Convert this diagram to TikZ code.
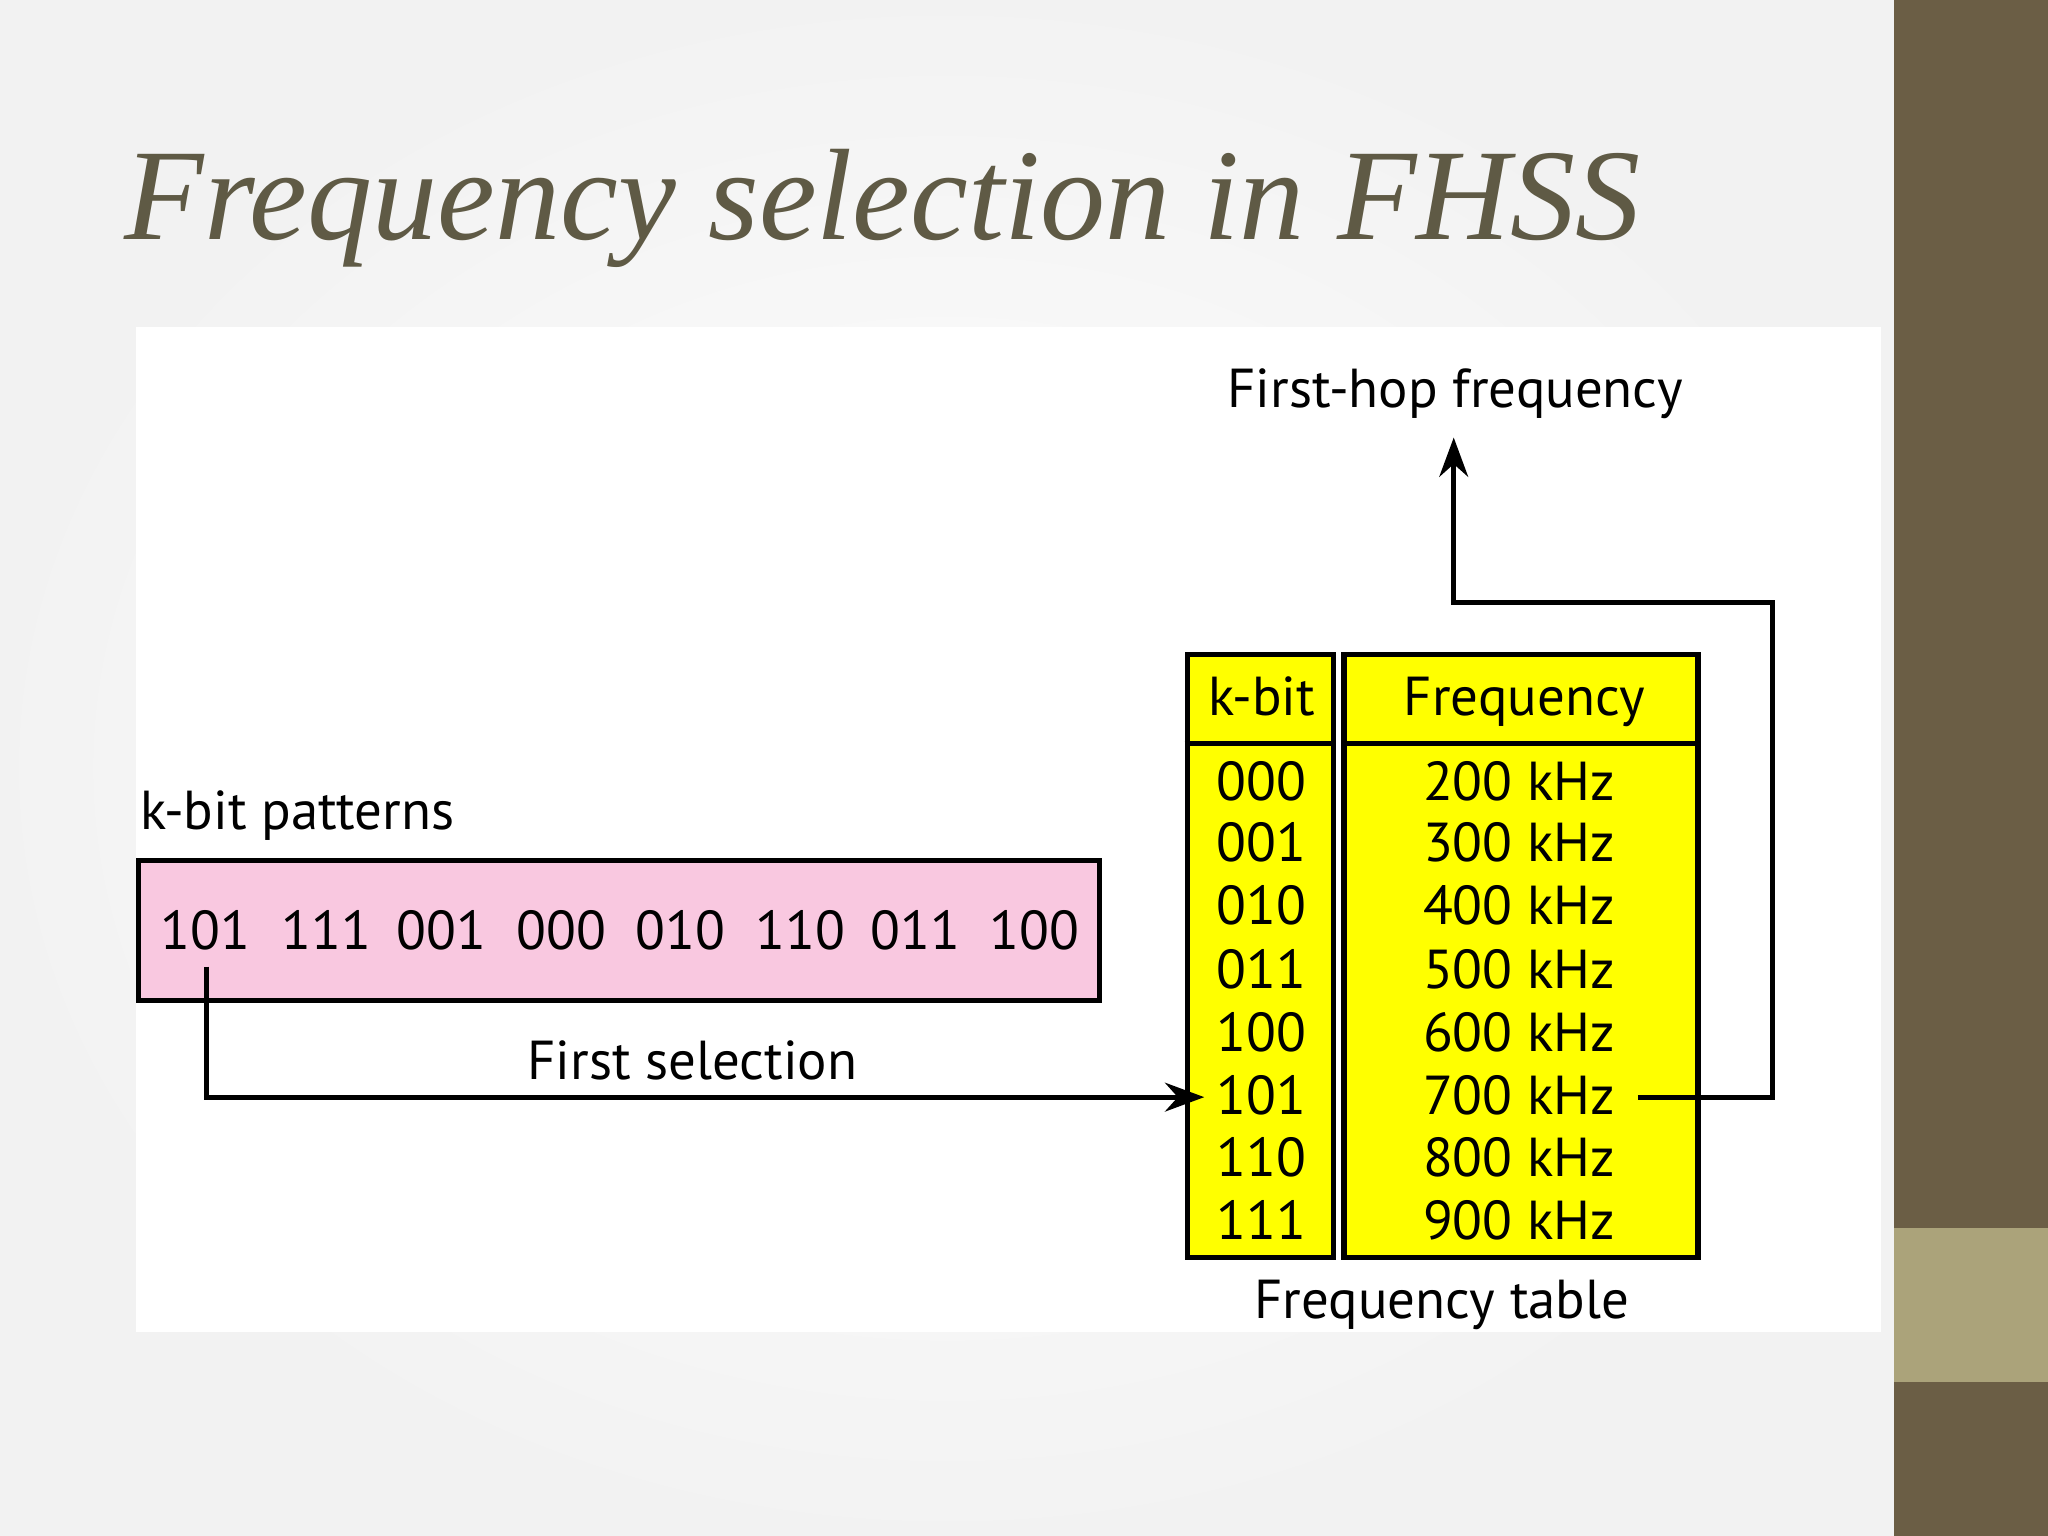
\documentclass[tikz,border=0pt]{standalone}
\usepackage{fontspec}
\setmainfont{Liberation Serif}
\newfontfamily\dfont{PT Sans}
\usetikzlibrary{arrows.meta}
\definecolor{olive}{HTML}{6B5E45}
\definecolor{olivel}{HTML}{ABA37A}
\definecolor{titlec}{HTML}{5F5A45}
\definecolor{pinkc}{HTML}{F9C8E0}
\definecolor{yel}{HTML}{FFFF00}
\begin{document}
\begin{tikzpicture}[x=0.5pt,y=-0.5pt,
  txt/.style={font=\dfont\fontsize{21}{24}\selectfont,inner sep=0pt,text depth=0pt},
  ln/.style={line width=2pt},
  arr/.style={ln,-{Stealth[length=15pt,width=11pt]}}]
\useasboundingbox (0,0) rectangle (1568,1176);
\shade[inner color=white,outer color=gray!10] (0,0) rectangle (1450,1176);
\fill[white] (104,250) rectangle (1440,1020);
\fill[olive] (1450,0) rectangle (1568,1176);
\fill[olivel] (1450,940) rectangle (1568,1058);
\node[anchor=base west,inner sep=0pt,text=titlec,font=\itshape\fontsize{49.8}{58}\selectfont] (title) at (95,183) {Frequency selection in FHSS};
\node[txt,anchor=west] (kbp) at (107,620) {k-bit patterns};
\node[ln,draw,fill=pinkc,minimum width=368pt,minimum height=53.5pt,inner sep=0pt] (pbox) at (474,712.5) {};
\foreach \t/\x [count=\i] in {101/157,111/250,001/338,000/430,010/521,110/613,011/701,100/792}
  \node[txt] (p\i) at (\x,712) {\t};
\node[ln,draw,fill=yel,minimum width=56pt,minimum height=231pt,inner sep=0pt] (lcol) at (965,732) {};
\node[ln,draw,fill=yel,minimum width=135.5pt,minimum height=231pt,inner sep=0pt] (rcol) at (1164.5,732) {};
\draw[ln] (lcol.west |- 0,569) -- (lcol.east |- 0,569);
\draw[ln] (rcol.west |- 0,569) -- (rcol.east |- 0,569);
\node[txt] (hk) at (966,533) {k-bit};
\node[txt] (hf) at (1167,533) {Frequency};
\foreach \a/\b/\y [count=\i] in {000/200/598,001/300/645,010/400/693,011/500/742,100/600/790,101/700/838,110/800/886,111/900/934}{
  \node[txt] (k\i) at (966,\y) {\a};
  \node[txt] (f\i) at (1163,\y) {\b\ kHz};}
\node[txt] (ft) at (1104,995) {Frequency table};
\node[txt] (fs) at (530,812) {First selection};
\node[txt] (fh) at (1114,297) {First-hop frequency};
\coordinate (s1) at (158,740);
\coordinate (e1) at (922,840);
\draw[arr] (s1) |- (e1);
\coordinate (s2) at (1254,840);
\coordinate (c2) at (1357,461);
\coordinate (e2) at (1113,335);
\draw[arr] (s2) -| (c2) -| (e2);
\end{tikzpicture}
\end{document}
